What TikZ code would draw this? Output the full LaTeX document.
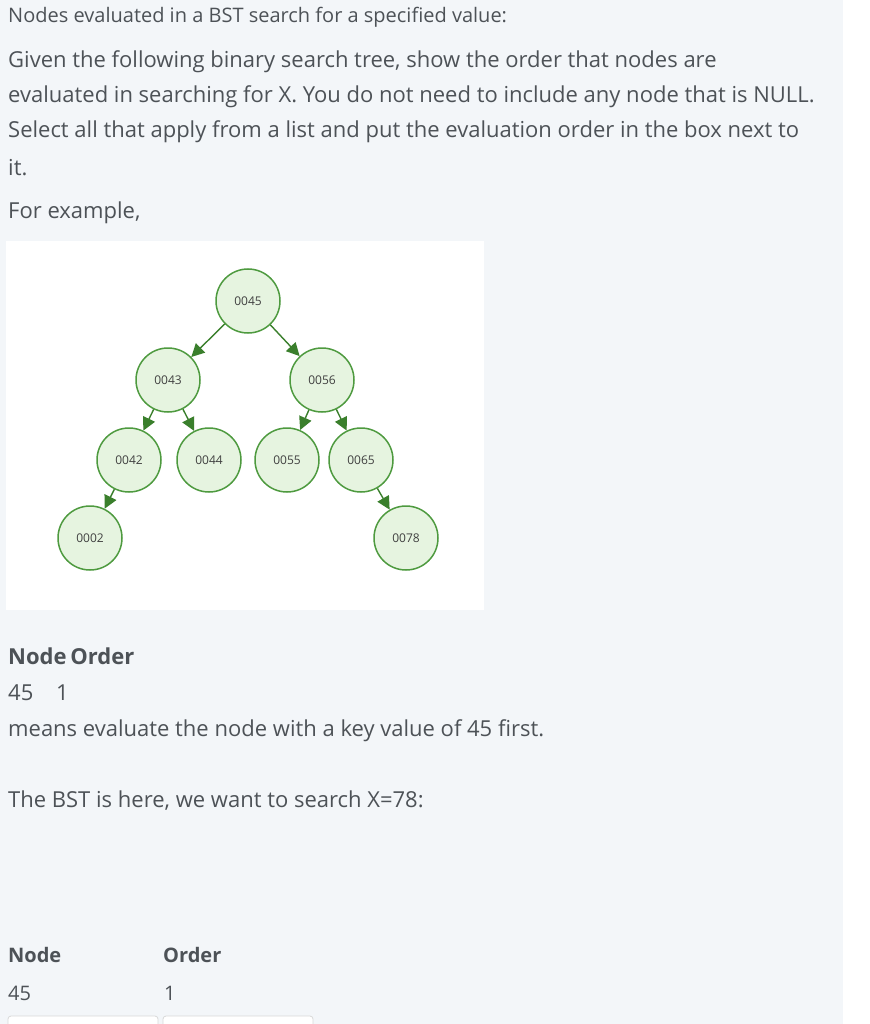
\documentclass[tikz,border=0pt]{standalone}
\usepackage{fontspec}
\setmainfont{Open Sans}
\usetikzlibrary{arrows.meta}
\definecolor{bgc}{HTML}{F3F6F9}
\definecolor{txt}{HTML}{4D5257}
\definecolor{gfill}{HTML}{E6F4E0}
\definecolor{gline}{HTML}{4E9A3F}
\definecolor{garrow}{HTML}{3A7F2C}
\begin{document}
\begin{tikzpicture}[x=1pt,y=-1pt,
  para/.style={anchor=west,inner sep=0pt,text=txt,font=\fontsize{22}{22}\selectfont},
  small/.style={anchor=west,inner sep=0pt,text=txt,font=\fontsize{20}{20}\selectfont},
  bold/.style={para,font=\fontsize{22}{22}\selectfont\bfseries},
  sbold/.style={para,font=\fontsize{20}{20}\selectfont\bfseries},
  bst/.style={circle,draw=gline,line width=1.5pt,fill=gfill,minimum size=64pt,inner sep=0pt,text=black!75,font=\fontsize{12}{12}\selectfont},
  edge/.style={draw=garrow,line width=1.4pt,-{Triangle[length=13pt,width=13pt]}},
  inbox/.style={draw=black!15,fill=white,rounded corners=3pt,line width=0.8pt}]
\useasboundingbox (0,0) rectangle (869,1024);
\fill[white] (0,0) rectangle (869,1024);
\fill[bgc] (0,0) rectangle (843,1024);
\fill[white] (6,241) rectangle (484,610);
\node[small] (t1) at (8,17) {Nodes evaluated in a BST search for a specified value:};
\node[para] (t2) at (8,62) {Given the following binary search tree, show the order that nodes are};
\node[para] (t3) at (8,97) {evaluated in searching for X. You do not need to include any node that is NULL.};
\node[para] (t4) at (8,132) {Select all that apply from a list and put the evaluation order in the box next to};
\node[para] (t5) at (8,168) {it.};
\node[para] (t6) at (8,213) {For example,};
\node[bst] (n45) at (248,301) {0045};
\node[bst] (n43) at (168,380) {0043};
\node[bst] (n56) at (322,380) {0056};
\node[bst] (n42) at (129,460) {0042};
\node[bst] (n44) at (209,460) {0044};
\node[bst] (n55) at (287,460) {0055};
\node[bst] (n65) at (361,460) {0065};
\node[bst] (n02) at (90,538) {0002};
\node[bst] (n78) at (406,538) {0078};
\foreach \a/\b in {n45/n43,n45/n56,n43/n42,n43/n44,n56/n55,n56/n65,n42/n02,n65/n78}
  \draw[edge] (\a) -- (\b);
\node[bold] (h1) at (8,656) {Node\,Order};
\node[para] (r1) at (8,693) {45};
\node[para] (r2) at (56,693) {1};
\node[para] (t7) at (8,731) {means evaluate the node with a key value of 45 first.};
\node[para] (t8) at (8,801) {The BST is here, we want to search X=78:};
\node[sbold] (h2) at (8,955) {Node};
\node[sbold] (h3) at (163,955) {Order};
\node[small] (r3) at (8,993) {45};
\node[small] (r4) at (164,993) {1};
\draw[inbox] (8,1016) rectangle (158,1030);
\draw[inbox] (163,1016) rectangle (313,1030);
\end{tikzpicture}
\end{document}
